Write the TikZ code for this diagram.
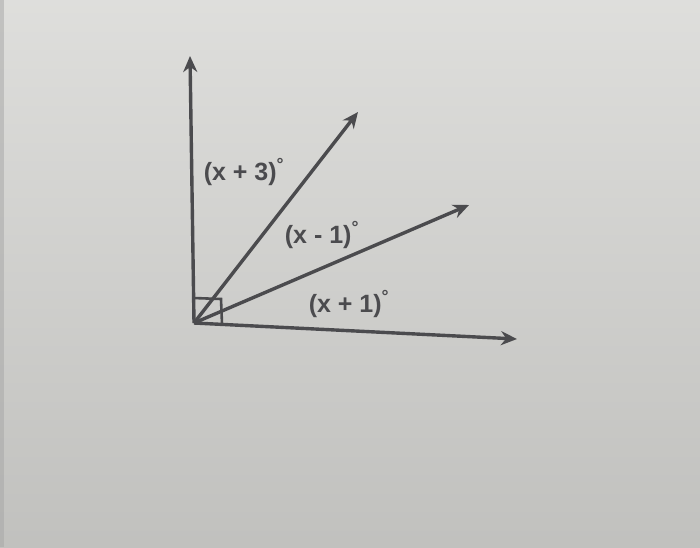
\documentclass[tikz,border=0pt]{standalone}
\usepackage{fontspec}
\setmainfont{Liberation Sans}
\usetikzlibrary{arrows.meta}
\definecolor{paper}{RGB}{214,214,211}
\definecolor{ink}{RGB}{75,75,78}
\begin{document}
\begin{tikzpicture}[x=1pt,y=-1pt,
  ray/.style={draw=ink,line width=3.4pt,-{Stealth[length=16pt,width=14pt]}},
  lbl/.style={text=ink,font=\fontsize{25}{28}\selectfont\bfseries,inner sep=1pt}]
\shade[top color=paper!80!white,bottom color=paper!90!black] (0,0) rectangle (700,547);
\useasboundingbox (0,0) rectangle (700,547);
\fill[black!35,opacity=0.5] (0,0) rectangle (4,547);
\coordinate (O) at (194,323);
\coordinate (U) at (190,56);
\coordinate (R) at (517,339);
\coordinate (A) at (358,112);
\coordinate (B) at (469,205);
\draw[ray] (O) -- (U);
\draw[ray] (O) -- (R);
\draw[ray] (O) -- (A);
\draw[ray] (O) -- (B);
\draw[ink,line width=2.6pt] (193.5,298) -- (221,299) -- (222,324);
\node[lbl] (L1) at (244,172) {(x + 3)\textsuperscript{\textdegree}};
\node[lbl] (L2) at (322,235) {(x - 1)\textsuperscript{\textdegree}};
\node[lbl] (L3) at (349,304) {(x + 1)\textsuperscript{\textdegree}};
\end{tikzpicture}
\end{document}
